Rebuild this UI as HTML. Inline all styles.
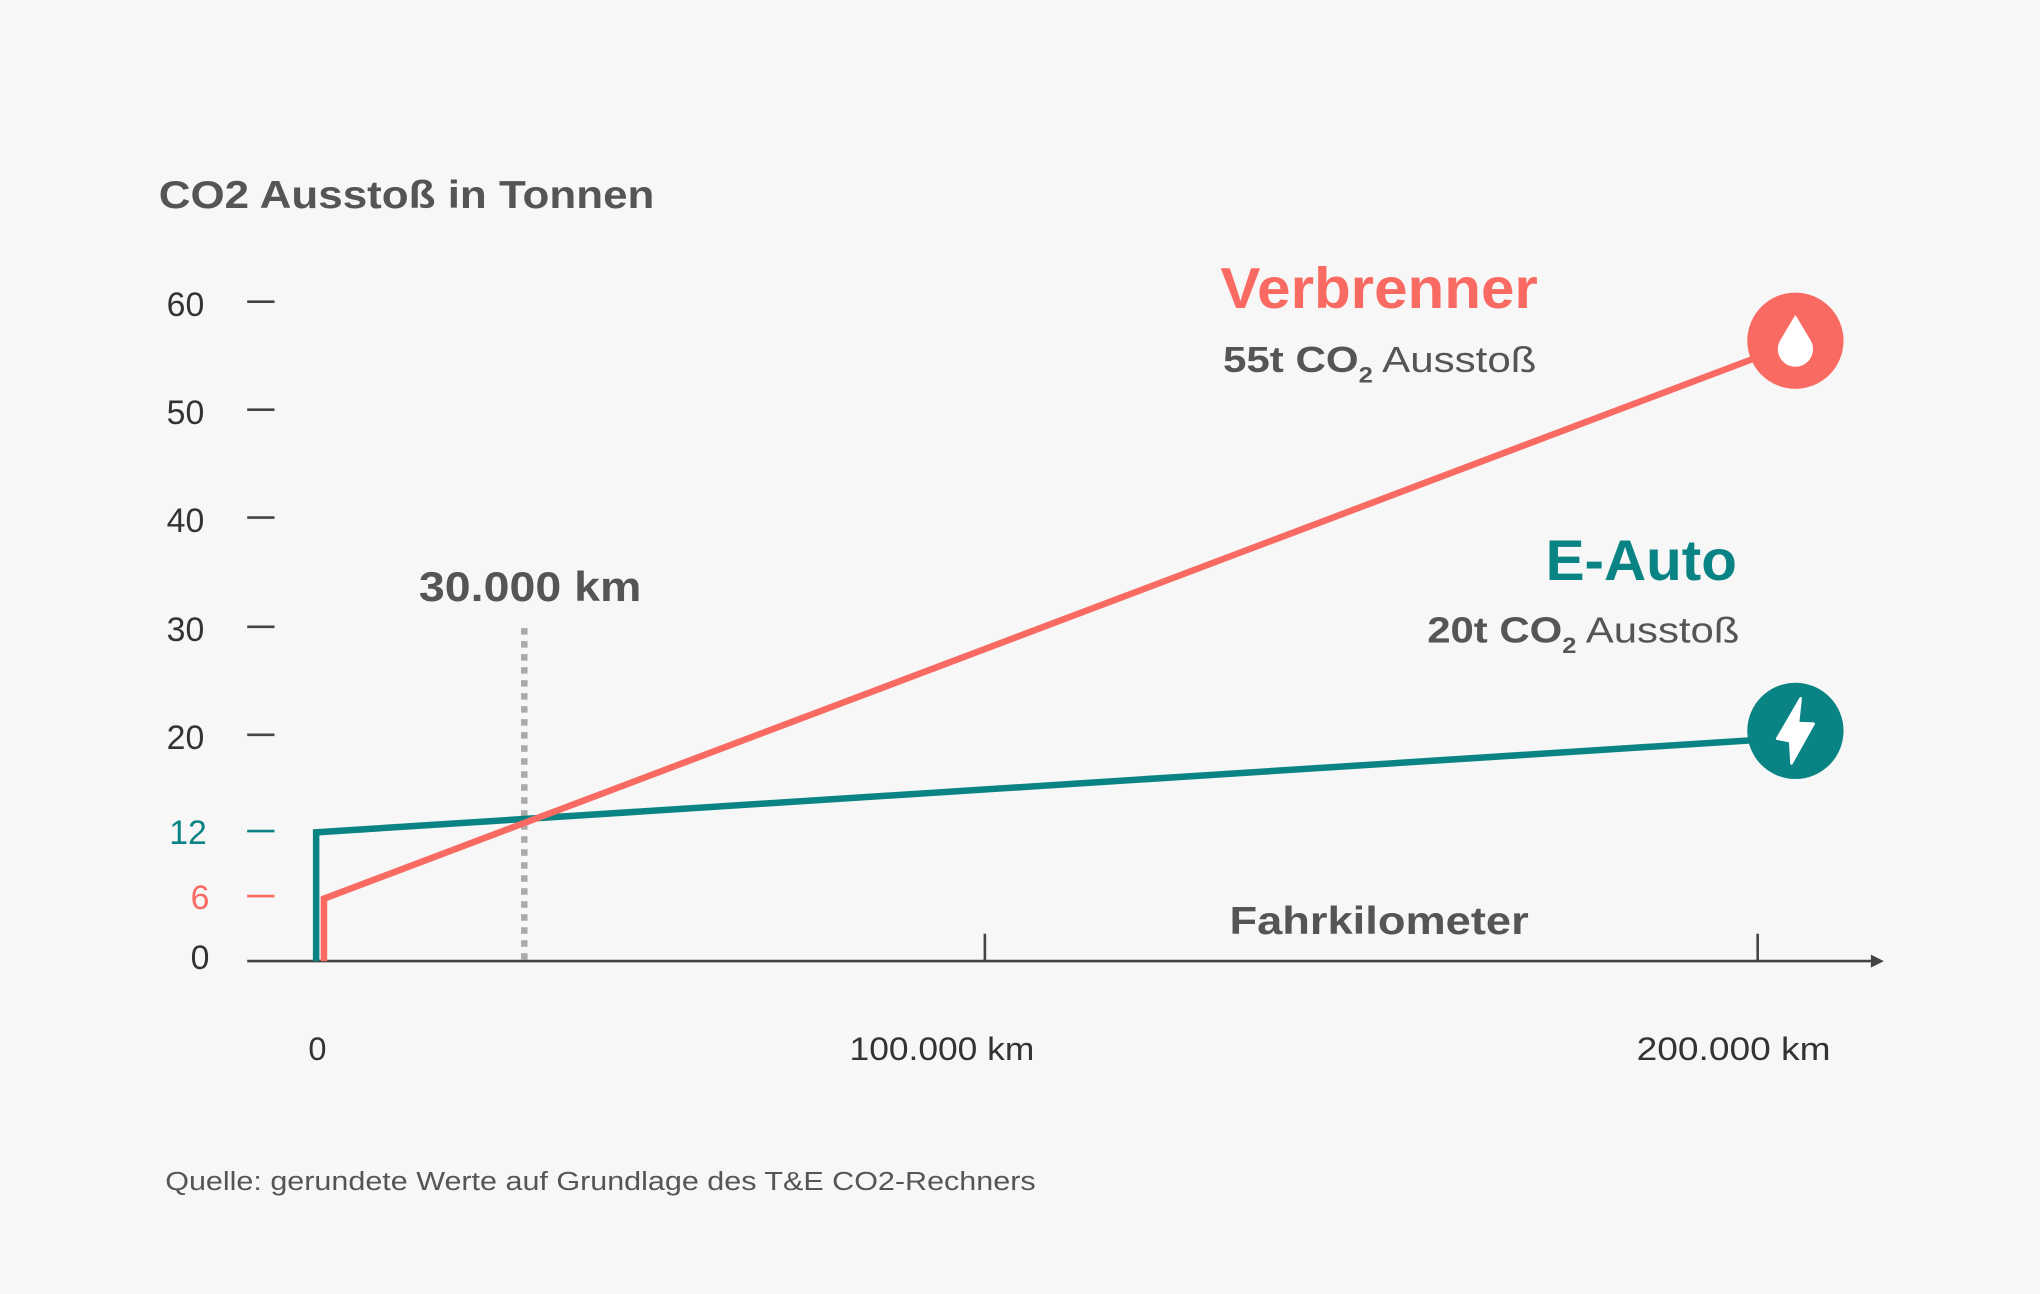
<!DOCTYPE html>
<html><head><meta charset="utf-8"><style>
html,body{margin:0;padding:0;background:#f7f7f7;}
svg{display:block;}
text{font-family:"Liberation Sans",sans-serif;}
</style></head><body>
<svg width="2040" height="1294" viewBox="0 0 1568 995" preserveAspectRatio="none" xmlns="http://www.w3.org/2000/svg">
<rect width="1568" height="995" fill="#f7f7f7"/>
<text x="122" y="160" font-size="30" font-weight="bold" fill="#555" textLength="381" lengthAdjust="spacingAndGlyphs">CO2 Ausstoß in Tonnen</text>
<g font-size="26" fill="#333" text-anchor="end">
<text x="157" y="243">60</text><text x="157" y="326">50</text><text x="157" y="409">40</text>
<text x="157" y="493">30</text><text x="157" y="576">20</text>
<text x="159" y="649" fill="#0a8385">12</text><text x="161" y="699" fill="#f96b62">6</text>
<text x="161" y="745">0</text>
</g>
<g stroke="#444" stroke-width="2">
<line x1="190" y1="232" x2="211" y2="232"/><line x1="190" y1="315" x2="211" y2="315"/>
<line x1="190" y1="398" x2="211" y2="398"/><line x1="190" y1="482" x2="211" y2="482"/>
<line x1="190" y1="565" x2="211" y2="565"/>
<line x1="190" y1="639" x2="211" y2="639" stroke="#0a8385"/>
<line x1="190" y1="689" x2="211" y2="689" stroke="#f96b62"/>
<line x1="190" y1="739" x2="1440" y2="739"/>
<line x1="757" y1="718" x2="757" y2="739"/><line x1="1351" y1="718" x2="1351" y2="739"/>
</g>
<polygon points="1438,734 1448,739 1438,744" fill="#444"/>
<g font-size="25" fill="#333">
<text x="237" y="815">0</text>
<text x="653" y="815" textLength="142" lengthAdjust="spacingAndGlyphs">100.000 km</text>
<text x="1258" y="815" textLength="149" lengthAdjust="spacingAndGlyphs">200.000 km</text>
</g>
<text x="945" y="718" font-size="30" font-weight="bold" fill="#555" textLength="230" lengthAdjust="spacingAndGlyphs">Fahrkilometer</text>
<line x1="403" y1="483" x2="403" y2="739" stroke="#aaa" stroke-width="5" stroke-dasharray="5,5"/>
<text x="322" y="462" font-size="32" font-weight="bold" fill="#555" textLength="171" lengthAdjust="spacingAndGlyphs">30.000 km</text>
<polyline points="243,739 243,640 1350,569" fill="none" stroke="#0a8385" stroke-width="5"/>
<polyline points="249,739 249,691 1350,275" fill="none" stroke="#f96b62" stroke-width="5"/>
<circle cx="1380" cy="262" r="37" fill="#f96b62"/>
<path d="M1380,243 L1368.8,261.9 A13,13 0 1 0 1391.2,261.9 Z" fill="#fff" stroke="#fff" stroke-width="1" stroke-linejoin="round"/>
<circle cx="1380" cy="562" r="37" fill="#0a8385"/>
<polygon points="1384,537 1382,556 1394,556.5 1377,587 1376,570 1366,568" fill="#fff" stroke="#fff" stroke-width="2" stroke-linejoin="round"/>
<text x="938" y="237" font-size="44" font-weight="bold" fill="#f96b62" textLength="244" lengthAdjust="spacingAndGlyphs">Verbrenner</text>
<text x="940" y="286" font-size="28" fill="#555" textLength="241" lengthAdjust="spacingAndGlyphs"><tspan font-weight="bold">55t CO</tspan><tspan font-weight="bold" font-size="17" dy="8">2</tspan><tspan dy="-8"> Ausstoß</tspan></text>
<text x="1188" y="446" font-size="44" font-weight="bold" fill="#0a8385" textLength="147" lengthAdjust="spacingAndGlyphs">E-Auto</text>
<text x="1097" y="494" font-size="28" fill="#555" textLength="240" lengthAdjust="spacingAndGlyphs"><tspan font-weight="bold">20t CO</tspan><tspan font-weight="bold" font-size="17" dy="8">2</tspan><tspan dy="-8"> Ausstoß</tspan></text>
<text x="127" y="915" font-size="20" fill="#555" textLength="669" lengthAdjust="spacingAndGlyphs">Quelle:  gerundete Werte auf Grundlage des T&amp;E CO2-Rechners</text>
</svg>
</body></html>
